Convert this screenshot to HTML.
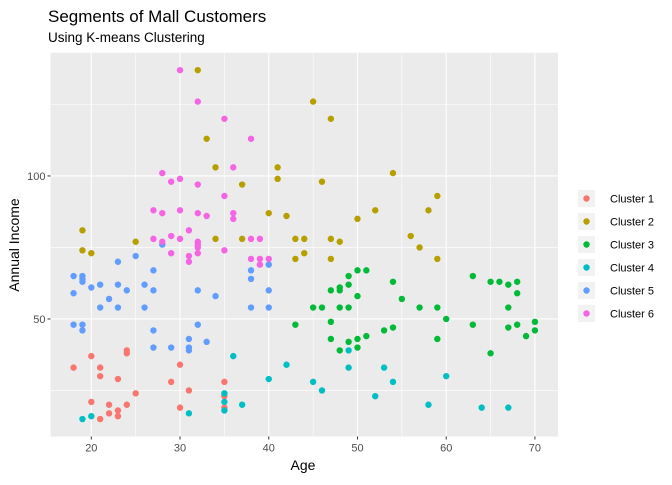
<!DOCTYPE html>
<html><head><meta charset="utf-8"><style>
body{margin:0;background:#fff;}
svg text{font-family:"Liberation Sans",Arial,sans-serif;}
</style></head><body>
<svg id="chart" width="672" height="480" xmlns="http://www.w3.org/2000/svg">
<rect width="672" height="480" fill="#fff"/>
<text x="48" y="22" font-size="17" fill="#000">Segments of Mall Customers</text>
<text x="48" y="42" font-size="13.5" fill="#000">Using K-means Clustering</text>
<rect x="50.5" y="52.7" width="507.5" height="383.8" fill="#EBEBEB"/>
<g id="grid"></g>
<g id="points"></g>
<g id="axes"></g>
<text x="303" y="470" font-size="14" text-anchor="middle" fill="#000">Age</text>
<text transform="translate(19,245) rotate(-90)" font-size="14" text-anchor="middle" fill="#000">Annual Income</text>
<g id="legend"></g>
</svg>
<script>
const clusterNames = ["Cluster 1","Cluster 2","Cluster 3","Cluster 4","Cluster 5","Cluster 6"];
const clusterColors = ["#F8766D","#B79F00","#00BA38","#00BFC4","#619CFF","#F564E3"];
const xTicks = [20,30,40,50,60,70];
const yTicks = [50,100];
const c1Age = [20,18,21,21,23,24,24,25,20,22,24,22,23,23,21,30,29,31,30,35,35,35];
const c1Inc = [37,33,33,30,29,39,38,24,21,20,20,17,18,16,15,34,28,25,19,28,23,19];
const c2Age = [32,33,34,19,25,34,19,20,45,47,41,41,37,46,54,40,42,50,52,37,43,44,47,48,44,43,47,59,58,56,57,59];
const c2Inc = [137,113,103,81,77,78,74,73,126,120,103,99,97,98,101,87,86,85,88,78,78,78,78,77,73,71,71,93,88,79,75,71];
const c3Age = [50,51,49,49,48,48,47,50,54,45,46,48,49,47,43,47,49,50,51,48,50,53,54,55,57,59,60,59,63,65,66,67,68,68,67,63,67,68,69,70,70,65];
const c3Inc = [67,67,65,62,61,60,60,58,63,54,54,54,54,49,48,43,42,43,44,39,40,46,47,57,54,54,50,43,65,63,63,62,63,59,54,48,47,48,44,49,46,38];
const c4Age = [19,20,31,35,35,35,36,37,40,42,45,46,49,49,52,53,54,60,58,64,67];
const c4Inc = [15,16,17,24,21,18,37,20,29,34,28,25,39,33,23,33,28,30,20,19,19];
const c5Age = [28,25,23,18,19,19,19,21,23,26,20,24,27,27,18,22,21,23,26,32,34,18,19,19,27,32,31,33,27,29,31,31,40,38,38,40,38,40];
const c5Inc = [76,72,70,65,65,64,63,62,62,62,61,60,60,67,59,57,54,54,54,60,58,48,48,46,46,48,43,42,40,40,40,39,69,67,64,60,54,54];
const c6Age = [30,32,35,28,29,30,32,35,27,28,30,32,33,31,27,28,29,30,32,32,32,32,31,31,29,35,38,36,36,36,38,39,38,39,40,39];
const c6Inc = [137,126,120,101,98,99,97,93,88,87,88,87,86,81,78,77,79,78,77,76,75,73,72,70,73,74,113,103,87,85,78,78,71,71,71,69];
const ages = [c1Age,c2Age,c3Age,c4Age,c5Age,c6Age];
const incs = [c1Inc,c2Inc,c3Inc,c4Inc,c5Inc,c6Inc];

const NS = "http://www.w3.org/2000/svg";
const px0 = 50.5, px1 = 558, py0 = 436.5, py1 = 52.7;
const xMin = 15.4, xMax = 72.6, yMin = 8.9, yMax = 143.1;
function xScale(v){ return px0 + (v - xMin) / (xMax - xMin) * (px1 - px0); }
function yScale(v){ return py0 - (v - yMin) / (yMax - yMin) * (py0 - py1); }

const grid = document.getElementById('grid');
function line(x1,y1,x2,y2,w,name){
  const l = document.createElementNS(NS,'line');
  l.setAttribute('x1',x1); l.setAttribute('y1',y1); l.setAttribute('x2',x2); l.setAttribute('y2',y2);
  l.setAttribute('stroke','#fff'); l.setAttribute('stroke-width',w);
  
  
  grid.appendChild(l);
}
for (let i = 0; i < xTicks.length - 1; i++) {
  const m = (xTicks[i] + xTicks[i+1]) / 2;
  line(xScale(m), py1, xScale(m), py0, 0.55, 'x-minor-gridline');
}
[25,75,125].forEach(v => line(px0, yScale(v), px1, yScale(v), 0.55, 'y-minor-gridline'));
xTicks.forEach(v => line(xScale(v), py1, xScale(v), py0, 1.1, 'x-major-gridline'));
yTicks.forEach(v => line(px0, yScale(v), px1, yScale(v), 1.1, 'y-major-gridline'));

const axes = document.getElementById('axes');
xTicks.forEach(v => {
  const t = document.createElementNS(NS,'line');
  t.setAttribute('x1',xScale(v)); t.setAttribute('x2',xScale(v)); t.setAttribute('y1',py0); t.setAttribute('y2',py0+3);
  t.setAttribute('stroke','#333'); t.setAttribute('stroke-width','1');
  
  
  axes.appendChild(t);
  const tx = document.createElementNS(NS,'text');
  tx.setAttribute('x',xScale(v)); tx.setAttribute('y',py0+15);
  tx.setAttribute('text-anchor','middle'); tx.setAttribute('font-size','11'); tx.setAttribute('fill','#4d4d4d');
  tx.textContent = v;
  
  
  axes.appendChild(tx);
});
yTicks.forEach(v => {
  const t = document.createElementNS(NS,'line');
  t.setAttribute('x1',px0-3); t.setAttribute('x2',px0); t.setAttribute('y1',yScale(v)); t.setAttribute('y2',yScale(v));
  t.setAttribute('stroke','#333'); t.setAttribute('stroke-width','1');
  
  
  axes.appendChild(t);
  const tx = document.createElementNS(NS,'text');
  tx.setAttribute('x',px0-5); tx.setAttribute('y',yScale(v)+4);
  tx.setAttribute('text-anchor','end'); tx.setAttribute('font-size','11'); tx.setAttribute('fill','#4d4d4d');
  tx.textContent = v;
  
  
  axes.appendChild(tx);
});

const pts = document.getElementById('points');
for (let c = 0; c < ages.length; c++) {
  for (let i = 0; i < ages[c].length; i++) {
    const p = document.createElementNS(NS,'circle');
    p.setAttribute('cx', xScale(ages[c][i]));
    p.setAttribute('cy', yScale(incs[c][i]));
    p.setAttribute('r', 3.2);
    p.setAttribute('fill', clusterColors[c]);
    
    
    pts.appendChild(p);
  }
}

const lg = document.getElementById('legend');
const bg = document.createElementNS(NS,'rect');
bg.setAttribute('x',573); bg.setAttribute('y',186); bg.setAttribute('width',90); bg.setAttribute('height',140); bg.setAttribute('fill','#fff');


lg.appendChild(bg);
clusterNames.forEach((n, i) => {
  const y = 199 + i * 23;
  const k = document.createElementNS(NS,'rect');
  k.setAttribute('x',578); k.setAttribute('y',y-9); k.setAttribute('width',17); k.setAttribute('height',17); k.setAttribute('fill','#F2F2F2');
  
  
  lg.appendChild(k);
  const d = document.createElementNS(NS,'circle');
  d.setAttribute('cx',586.5); d.setAttribute('cy',y-0.5); d.setAttribute('r',3.2); d.setAttribute('fill',clusterColors[i]);
  
  
  lg.appendChild(d);
  const t = document.createElementNS(NS,'text');
  t.setAttribute('x',610); t.setAttribute('y',y+3.5); t.setAttribute('font-size','11'); t.setAttribute('fill','#000');
  t.textContent = n;
  
  
  lg.appendChild(t);
});
</script>
</body></html>
